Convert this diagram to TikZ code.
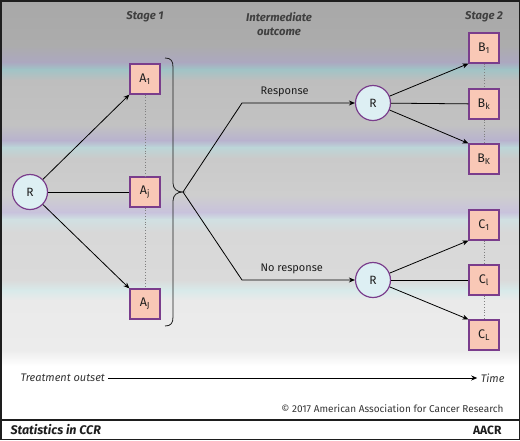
\documentclass[tikz,border=0pt]{standalone}
\usepackage{fontspec}
\setmainfont{Fira Sans}
\usetikzlibrary{arrows.meta,shadows}
\definecolor{boxfill}{HTML}{F9C8B6}
\definecolor{boxline}{HTML}{7A3D8C}
\definecolor{circfill}{HTML}{DDEFF3}
\definecolor{txt}{HTML}{1E1E1E}
\newcommand{\sbx}[1]{\textsubscript{#1}}
\begin{document}
\begin{tikzpicture}[x=1pt,y=-1pt,
  box/.style={draw=boxline, line width=1.2pt, fill=boxfill, minimum size=30pt, inner sep=0pt, font=\fontsize{12.5}{13}\selectfont, text=txt, drop shadow={opacity=0.25, shadow xshift=1pt, shadow yshift=-1pt}},
  rnode/.style={circle, draw=boxline, line width=1.2pt, fill=circfill, minimum size=35pt, inner sep=0pt, font=\fontsize{12}{13}\selectfont, text=txt},
  arr/.style={-{Stealth[length=6pt,width=5pt]}, line width=0.8pt},
  ln/.style={line width=0.8pt},
  dots/.style={dotted, line width=0.8pt, gray},
  head/.style={font=\fontsize{11.3}{14}\selectfont\itshape\bfseries, text=txt!85, align=center},
  lbl/.style={font=\fontsize{11}{12}\selectfont, text=txt},
  axis/.style={font=\fontsize{11}{12}\selectfont\itshape, text=txt!90}
]
\useasboundingbox (0,0) rectangle (520,440);
% background bands
\fill[top color={rgb,255:red,168;green,168;blue,168}, bottom color={rgb,255:red,172;green,172;blue,172}] (0,0) rectangle (520,45.5);
\fill[top color={rgb,255:red,172;green,172;blue,172}, bottom color={rgb,255:red,172;green,168;blue,192}] (0,45) rectangle (520,62.5);
\fill[top color={rgb,255:red,172;green,168;blue,192}, bottom color={rgb,255:red,160;green,196;blue,198}] (0,62) rectangle (520,69.5);
\fill[top color={rgb,255:red,160;green,196;blue,198}, bottom color={rgb,255:red,190;green,190;blue,190}] (0,69) rectangle (520,80.5);
\fill[top color={rgb,255:red,190;green,190;blue,190}, bottom color={rgb,255:red,194;green,194;blue,194}] (0,80) rectangle (520,125.5);
\fill[top color={rgb,255:red,194;green,194;blue,194}, bottom color={rgb,255:red,184;green,178;blue,206}] (0,125) rectangle (520,140.5);
\fill[top color={rgb,255:red,184;green,178;blue,206}, bottom color={rgb,255:red,188;green,214;blue,216}] (0,140) rectangle (520,147.5);
\fill[top color={rgb,255:red,188;green,214;blue,216}, bottom color={rgb,255:red,202;green,202;blue,202}] (0,147) rectangle (520,158.5);
\fill[top color={rgb,255:red,202;green,202;blue,202}, bottom color={rgb,255:red,206;green,206;blue,206}] (0,158) rectangle (520,195.5);
\fill[top color={rgb,255:red,206;green,206;blue,206}, bottom color={rgb,255:red,200;green,194;blue,220}] (0,195) rectangle (520,212.5);
\fill[top color={rgb,255:red,200;green,194;blue,220}, bottom color={rgb,255:red,208;green,224;blue,226}] (0,212) rectangle (520,219.5);
\fill[top color={rgb,255:red,208;green,224;blue,226}, bottom color={rgb,255:red,216;green,216;blue,216}] (0,219) rectangle (520,232.5);
\fill[top color={rgb,255:red,216;green,216;blue,216}, bottom color={rgb,255:red,218;green,218;blue,218}] (0,232) rectangle (520,280.5);
\fill[top color={rgb,255:red,218;green,218;blue,218}, bottom color={rgb,255:red,216;green,234;blue,234}] (0,280) rectangle (520,290.5);
\fill[top color={rgb,255:red,216;green,234;blue,234}, bottom color={rgb,255:red,234;green,234;blue,234}] (0,290) rectangle (520,300.5);
\fill[top color={rgb,255:red,234;green,234;blue,234}, bottom color={rgb,255:red,236;green,236;blue,236}] (0,300) rectangle (520,350.5);
\fill[top color={rgb,255:red,236;green,236;blue,236}, bottom color=white] (0,350) rectangle (520,366);
\fill[white] (0,365.5) rectangle (520,440);
% frame
\draw[line width=1.5pt, txt] (0.75,0.75) rectangle (519.25,439.25);
\draw[line width=1.2pt, txt] (0,420) -- (520,420);

% headings
\node[head] (s1) at (145,17) {Stage 1};
\node[head] (im) at (279,24) {Intermediate\\outcome};
\node[head] (s2) at (484,17) {Stage 2};

% nodes
\node[rnode] (R1) at (30,192) {R};
\node[box] (A1) at (145,79) {A\sbx{1}};
\node[box] (Aj) at (145,192) {A\sbx{j}};
\node[box] (AJ) at (145,304) {A\sbx{J}};
\node[rnode] (R2) at (373,103) {R};
\node[rnode] (R3) at (373,280) {R};
\node[box] (B1) at (484,48) {B\sbx{1}};
\node[box] (Bk) at (484,104) {B\sbx{k}};
\node[box] (BK) at (484,159) {B\sbx{K}};
\node[box] (C1) at (484,225) {C\sbx{1}};
\node[box] (Cl) at (484,280) {C\sbx{l}};
\node[box] (CL) at (484,335) {C\sbx{L}};

% dotted connectors
\draw[dots] (A1) -- (Aj);
\draw[dots] (Aj) -- (AJ);
\draw[dots] (B1) -- (Bk);
\draw[dots] (Bk) -- (BK);
\draw[dots] (C1) -- (Cl);
\draw[dots] (Cl) -- (CL);

% stage 1 edges
\draw[arr] (R1) -- (A1.south west);
\draw[ln] (R1) -- (Aj);
\draw[arr] (R1) -- (AJ.north west);

% brace
\coordinate (tip) at (183,192);
\draw[ln, txt] (165,58) .. controls (171,58) and (173,61) .. (173,67)
  -- (173,183) .. controls (173,189) and (177,192) .. (tip)
  .. controls (177,192) and (173,195) .. (173,201)
  -- (173,317) .. controls (173,323) and (171,326) .. (165,326);

% intermediate
\coordinate (up) at (242,103);
\coordinate (dn) at (242,280);
\draw[arr] (tip) -- (up) -- (R2);
\draw[arr] (tip) -- (dn) -- (R3);
\node[lbl, anchor=south west] (resp) at (257,100) {Response};
\node[lbl, anchor=south west] (nresp) at (257,277) {No response};

% stage 2 edges
\draw[arr] (R2) -- (B1.south west);
\draw[ln] (R2) -- (Bk);
\draw[arr] (R2) -- (BK.north west);
\draw[arr] (R3) -- (C1.south west);
\draw[ln] (R3) -- (Cl);
\draw[arr] (R3) -- (CL.north west);

% time axis
\node[axis, anchor=west] (to) at (17,378) {Treatment outset};
\node[axis, anchor=east] (tm) at (508,378) {Time};
\draw[arr] (to) -- (tm);

% footer
\node[anchor=east, font=\fontsize{10}{12}\selectfont, text=txt!90] (copy) at (507,409) {© 2017 American Association for Cancer Research};
\node[anchor=west, font=\fontsize{12.5}{14}\selectfont\bfseries\itshape, text=txt] (sccr) at (7,430) {Statistics in CCR};
\node[anchor=east, font=\fontsize{12}{14}\selectfont\bfseries, text=txt] (aacr) at (505,430) {AACR};
\end{tikzpicture}
\end{document}
